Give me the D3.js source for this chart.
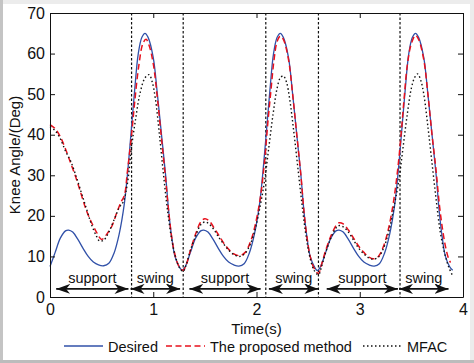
<!DOCTYPE html>
<html>
<head>
<meta charset="utf-8">
<script src="https://cdn.jsdelivr.net/npm/d3@7"></script>
<style>
  body { margin: 0; background: #fff; }
  svg { display: block; font-family: "Liberation Sans", Arial, sans-serif; }
</style>
</head>
<body>
<script>
// knee angle curves, [time, deg]
const desired = [[0,7.5],[0.05,11],[0.1,14.5],[0.15,16.3],[0.18,16.5],[0.22,16],[0.27,14.2],[0.32,12],[0.37,10],[0.42,8.6],[0.47,7.9],[0.52,7.7],[0.57,8.3],[0.62,10.8],[0.67,15.5],[0.72,23],[0.76,33],[0.79,42],[0.82,51],[0.855,60],[0.89,64],[0.92,65],[0.95,64],[1.0,59],[1.04,50],[1.08,40],[1.12,30],[1.15,21],[1.18,14.5],[1.21,10],[1.25,7.5],[1.28,6.6],
  [1.31,7.5],[1.36,11],[1.41,14.5],[1.46,16.3],[1.49,16.5],[1.53,16],[1.58,14.2],[1.63,12],[1.68,10],[1.73,8.6],[1.78,7.9],[1.83,7.6],[1.88,8.2],[1.93,10.8],[1.98,15.5],[2.03,23],[2.07,33],[2.1,42],[2.13,51],[2.165,60],[2.2,64],[2.23,65],[2.26,64],[2.31,59],[2.35,50],[2.39,40],[2.43,30],[2.46,21],[2.49,14.5],[2.52,10],[2.56,7.5],[2.59,6.5],
  [2.62,7.5],[2.67,11],[2.72,14.5],[2.77,16.3],[2.8,16.5],[2.84,16],[2.89,14.2],[2.94,12],[2.99,10],[3.04,8.6],[3.09,7.9],[3.14,7.6],[3.19,8.2],[3.24,10.8],[3.29,15.5],[3.34,23],[3.38,33],[3.41,42],[3.44,51],[3.475,60],[3.51,64],[3.54,65],[3.57,64],[3.62,59],[3.66,50],[3.7,40],[3.74,30],[3.77,21],[3.8,14.5],[3.83,10],[3.87,7.5],[3.9,6.6]];

const proposed = [[0,42.5],[0.05,41.5],[0.1,39.5],[0.15,36.5],[0.2,33],[0.25,29.5],[0.3,25.5],[0.35,21.5],[0.4,18.5],[0.45,16],[0.5,14.2],[0.55,15.5],[0.6,17.5],[0.65,21],[0.69,23.5],[0.72,25],[0.75,31],[0.79,40],[0.82,48],[0.86,57],[0.9,62.5],[0.93,63.5],[0.96,62],[1.0,57.5],[1.04,49],[1.08,39],[1.12,29],[1.15,21],[1.18,14.5],[1.21,10.5],[1.25,7.5],[1.29,6.6],
  [1.32,8],[1.36,11.5],[1.41,15.5],[1.46,18.5],[1.5,19.3],[1.54,18.8],[1.59,17],[1.64,15],[1.69,13],[1.74,11.5],[1.79,10.5],[1.84,10.2],[1.89,11],[1.94,13.5],[1.99,18],[2.04,25],[2.08,34],[2.11,43],[2.14,51],[2.17,58.5],[2.2,63],[2.23,64.3],[2.26,63.5],[2.31,58.5],[2.35,50],[2.39,40],[2.43,30],[2.46,21],[2.49,14.5],[2.52,10],[2.56,7],[2.6,5.8],
  [2.63,8],[2.67,11.5],[2.72,15],[2.77,17.6],[2.8,18.3],[2.84,18],[2.89,16.5],[2.94,14.5],[2.99,12.5],[3.04,11],[3.09,9.8],[3.13,9.4],[3.18,10],[3.23,12.5],[3.28,17],[3.33,24],[3.37,32],[3.4,40],[3.43,49],[3.46,57],[3.5,62.5],[3.54,64.5],[3.57,63.5],[3.62,58.5],[3.66,50],[3.7,40],[3.74,31],[3.77,23],[3.8,17],[3.83,12.5],[3.86,9.5],[3.88,8.5]];

const mfac = [[0,42],[0.05,41],[0.1,39],[0.15,36],[0.2,33.5],[0.25,30],[0.3,26],[0.35,22],[0.4,18],[0.45,15],[0.48,13.8],[0.52,14],[0.57,16],[0.62,19],[0.67,22],[0.71,23.5],[0.75,28],[0.79,37],[0.83,44],[0.87,50],[0.92,54],[0.96,54.8],[0.99,53],[1.02,49],[1.06,40],[1.1,30],[1.14,21],[1.18,14],[1.22,9.5],[1.26,7],[1.29,6.3],
  [1.32,8],[1.36,11.5],[1.41,15],[1.46,17.8],[1.5,18.5],[1.54,18],[1.59,16.5],[1.64,14.5],[1.69,12.8],[1.74,11.3],[1.79,10.3],[1.84,10],[1.89,10.8],[1.94,13],[1.99,17],[2.04,23],[2.08,29],[2.12,37],[2.16,45],[2.2,51.5],[2.23,54],[2.26,54.5],[2.29,53],[2.32,49],[2.36,41],[2.4,32],[2.44,23],[2.48,15],[2.52,9.5],[2.56,6.5],[2.6,5.5],
  [2.63,7.5],[2.67,11],[2.72,14.5],[2.77,17],[2.8,17.6],[2.84,17.3],[2.89,16],[2.94,14],[2.99,12],[3.04,10.6],[3.09,9.6],[3.13,9.3],[3.18,9.8],[3.23,12],[3.28,16],[3.33,22],[3.38,29],[3.42,37],[3.46,45],[3.5,51.5],[3.53,54],[3.56,55],[3.59,53.5],[3.62,50],[3.66,42],[3.7,33],[3.74,24],[3.78,16],[3.82,11],[3.86,7.5],[3.9,5.2]];

// gait phases
const phaseLines = [0.79, 1.29, 2.09, 2.6, 3.39];
const phaseNames = ["support", "swing", "support", "swing", "support", "swing"];
const phaseStart = [0.06, 0.78, 1.35, 2.12, 2.68, 3.38];
const phaseEnd = [0.76, 1.26, 2.04, 2.6, 3.37, 3.86];

const xTicks = [0, 1, 2, 3, 4];
const yTicks = [0, 10, 20, 30, 40, 50, 60, 70];
const legendNames = ["Desired", "The proposed method", "MFAC"];

const w = 474, h = 363;
const pLeft = 50, pRight = 463, pTop = 13, pBottom = 297;

const svg = d3.select('body').append('svg')
    .attr('width', w)
    .attr('height', h);

// grey frame around the figure
svg.append('rect').attr('width', w).attr('height', h).attr('fill', '#ececec');
svg.append('rect').attr('x', 0).attr('y', 0).attr('width', 3).attr('height', h).attr('fill', '#c4c4c4');
svg.append('rect').attr('x', 0).attr('y', h - 3).attr('width', w).attr('height', 3).attr('fill', '#bcbcbc');
svg.append('rect').attr('x', 3).attr('y', 4).attr('width', w - 7).attr('height', h - 7).attr('fill', '#fff');

const xScale = d3.scaleLinear().domain([0, 4]).range([pLeft, pRight]);
const yScale = d3.scaleLinear().domain([0, 70]).range([pBottom, pTop]);

// phase separators
svg.selectAll('.sep')
    .data(phaseLines)
    .enter()
    .append('line')
    .attr('class', 'sep')
    .attr('x1', (d) => xScale(d))
    .attr('x2', (d) => xScale(d))
    .attr('y1', pTop)
    .attr('y2', pBottom)
    .attr('stroke', '#111')
    .attr('stroke-width', 1.2)
    .attr('stroke-dasharray', '2.5,2');

// curves
const line = d3.line()
    .x((d) => xScale(d[0]))
    .y((d) => yScale(d[1]))
    .curve(d3.curveCatmullRom);

svg.append('path').datum(desired)
    .attr('d', line).attr('fill', 'none')
    .attr('stroke', '#3050a8').attr('stroke-width', 1.3);

svg.append('path').datum(proposed)
    .attr('d', line).attr('fill', 'none')
    .attr('stroke', '#e8101c').attr('stroke-width', 1.5)
    .attr('stroke-dasharray', '6,3.5');

svg.append('path').datum(mfac)
    .attr('d', line).attr('fill', 'none')
    .attr('stroke', '#111').attr('stroke-width', 1.4)
    .attr('stroke-dasharray', '1.5,2.5');

// arrows
svg.append('defs').append('marker')
    .attr('id', 'head')
    .attr('viewBox', '0 0 14 10')
    .attr('refX', 14)
    .attr('refY', 5)
    .attr('markerUnits', 'userSpaceOnUse')
    .attr('markerWidth', 14)
    .attr('markerHeight', 10)
    .attr('orient', 'auto-start-reverse')
    .append('path')
    .attr('d', 'M0,0 L14,5 L0,10 L4,5 Z')
    .attr('fill', '#111');

svg.selectAll('.arrow')
    .data(phaseNames)
    .enter()
    .append('line')
    .attr('class', 'arrow')
    .attr('x1', (d, i) => xScale(phaseStart[i]))
    .attr('x2', (d, i) => xScale(phaseEnd[i]))
    .attr('y1', yScale(2))
    .attr('y2', yScale(2))
    .attr('stroke', '#111')
    .attr('stroke-width', 1.6)
    .attr('marker-start', 'url(#head)')
    .attr('marker-end', 'url(#head)');

svg.selectAll('.phase')
    .data(phaseNames)
    .enter()
    .append('text')
    .attr('class', 'phase')
    .attr('x', (d, i) => xScale((phaseStart[i] + phaseEnd[i]) / 2))
    .attr('y', yScale(2) - 6)
    .attr('text-anchor', 'middle')
    .style('font-size', '14.5px')
    .attr('fill', '#111')
    .text((d) => d);

// axes, ticks inward on all four sides
const xAxis = d3.axisBottom(xScale).tickValues(xTicks).tickSizeInner(-5).tickSizeOuter(0).tickPadding(7).tickFormat(d3.format('d'));
const yAxis = d3.axisLeft(yScale).tickValues(yTicks).tickSizeInner(-5).tickSizeOuter(0).tickPadding(5);
const xTop = d3.axisTop(xScale).tickValues(xTicks).tickSizeInner(-5).tickSizeOuter(0).tickFormat('');
const yRight = d3.axisRight(yScale).tickValues(yTicks).tickSizeInner(-5).tickSizeOuter(0).tickFormat('');

const axes = [
    [xAxis, `translate(0, ${pBottom})`],
    [yAxis, `translate(${pLeft}, 0)`],
    [xTop, `translate(0, ${pTop})`],
    [yRight, `translate(${pRight}, 0)`]
];
axes.forEach(([ax, tr]) => {
    const g = svg.append('g').attr('transform', tr).call(ax);
    g.selectAll('text').style('font-size', '16px').style('font-family', '"Liberation Sans", Arial, sans-serif').attr('fill', '#111');
    g.selectAll('path, line').attr('stroke', '#111');
});

// axis titles
svg.append('text')
    .attr('x', (pLeft + pRight) / 2)
    .attr('y', 334)
    .attr('text-anchor', 'middle')
    .style('font-size', '15px')
    .attr('fill', '#111')
    .text('Time(s)');

svg.append('text')
    .attr('transform', 'translate(20, 155) rotate(-90)')
    .attr('text-anchor', 'middle')
    .style('font-size', '15px')
    .attr('fill', '#111')
    .text('Knee Angle/(Deg)');

// legend
const legendX = [64, 166, 363];
const legendStyle = [
    { stroke: '#3050a8', dash: null, width: 1.3 },
    { stroke: '#e8101c', dash: '6,3.5', width: 1.5 },
    { stroke: '#111', dash: '1.5,2.5', width: 1.3 }
];
const legend = svg.append('g');
legendNames.forEach((name, i) => {
    legend.append('line')
        .attr('x1', legendX[i]).attr('x2', legendX[i] + 39)
        .attr('y1', 346).attr('y2', 346)
        .attr('stroke', legendStyle[i].stroke)
        .attr('stroke-width', legendStyle[i].width)
        .attr('stroke-dasharray', legendStyle[i].dash);
    legend.append('text')
        .attr('x', legendX[i] + 44)
        .attr('y', 352)
        .style('font-size', '14.5px')
        .attr('fill', '#111')
        .text(name);
});
</script>
</body>
</html>
